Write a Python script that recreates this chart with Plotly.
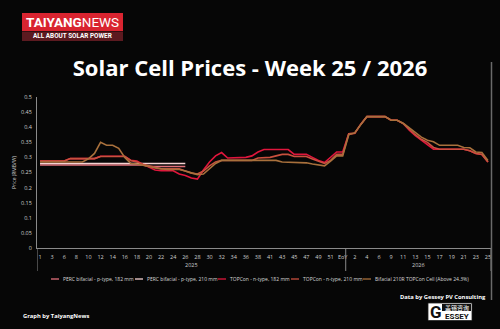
import plotly.graph_objects as go

# ---------------- data ----------------
weeks_2025 = ["1", "2", "3", "5", "6", "7", "8", "9", "10", "11", "12", "13", "14", "15", "16",
              "17", "18", "19", "20", "21", "22", "23", "24", "25", "26", "27", "28", "29", "30",
              "31", "32", "33", "34", "35", "36", "37", "38", "40", "41", "42", "43", "44", "45",
              "46", "47", "48", "49", "50", "51", "52", "EoY"]
weeks_2026 = ["1", "2", "3", "4", "5", "6", "8", "9", "10", "11", "12", "13", "14", "15", "16",
              "17", "18", "19", "20", "21", "22", "23", "24", "25"]
years = ["2025", "2026"]

perc_182 = [0.275] * 18 + [0.27] * 7 + [None] * 50
perc_210 = [0.28] * 25 + [None] * 50

topcon_182 = [
    0.288, 0.288, 0.288, 0.288, 0.288, 0.296, 0.296, 0.296, 0.296, 0.296,
    0.304, 0.304, 0.304, 0.304, 0.304, 0.29, 0.288, 0.277, 0.268, 0.258,
    0.256, 0.256, 0.256, 0.245, 0.24, 0.232, 0.228, 0.258, 0.285, 0.305,
    0.316, 0.298, 0.298, 0.298, 0.3, 0.305, 0.318, 0.326, 0.326, 0.326,
    0.326, 0.326, 0.31, 0.31, 0.31, 0.3, 0.29, 0.283, 0.3, 0.318,
    0.318,
    0.378, 0.38, 0.41, 0.435, 0.435, 0.435, 0.435, 0.423, 0.423, 0.412,
    0.39, 0.372, 0.357, 0.345, 0.327, 0.327, 0.327, 0.327, 0.327, 0.327,
    0.322, 0.313, 0.31, 0.285]

topcon_210 = [
    0.288, 0.288, 0.288, 0.288, 0.288, 0.296, 0.296, 0.296, 0.296, 0.296,
    0.303, 0.303, 0.303, 0.303, 0.303, 0.29, 0.285, 0.277, 0.272, 0.265,
    0.262, 0.262, 0.262, 0.262, 0.255, 0.248, 0.245, 0.255, 0.272, 0.285,
    0.29, 0.29, 0.29, 0.29, 0.29, 0.29, 0.298, 0.3, 0.3, 0.305,
    0.31, 0.31, 0.303, 0.303, 0.303, 0.295, 0.287, 0.28, 0.29, 0.31,
    0.31,
    0.378, 0.38, 0.41, 0.435, 0.435, 0.435, 0.435, 0.423, 0.423, 0.412,
    0.392, 0.375, 0.36, 0.35, 0.333, 0.327, 0.327, 0.327, 0.327, 0.327,
    0.322, 0.313, 0.31, 0.285]

bifacial_210r = [
    0.285, 0.285, 0.285, 0.285, 0.285, 0.285, 0.285, 0.285, 0.295, 0.313,
    0.35, 0.34, 0.34, 0.33, 0.30, 0.28, 0.278, 0.275, 0.27, 0.265,
    0.262, 0.26, 0.26, 0.26, 0.255, 0.248, 0.243, 0.245, 0.262, 0.28,
    0.29, 0.29, 0.288, 0.288, 0.29, 0.29, 0.29, 0.29, 0.29, 0.29,
    0.285, 0.284, 0.284, 0.283, 0.282, 0.278, 0.274, 0.272, 0.288, 0.305,
    0.305,
    0.375, 0.382, 0.41, 0.435, 0.435, 0.435, 0.435, 0.423, 0.423, 0.413,
    0.398, 0.382, 0.367, 0.357, 0.352, 0.34, 0.34, 0.34, 0.34, 0.333,
    0.332, 0.318, 0.316, 0.29]

series_names = ["PERC bifacial - p-type, 182 mm", "PERC bifacial - p-type, 210 mm",
                "TOPCon - n-type, 182 mm", "TOPCon - n-type, 210 mm",
                "Bifacial 210R TOPCon Cell (Above 24.3%)"]
series_values = [perc_182, perc_210, topcon_182, topcon_210, bifacial_210r]
series_colors = ["#e0707a", "#f6d2d2", "#e0163c", "#c9503e", "#a8703c"]

y_ticks = [0, 0.05, 0.1, 0.15, 0.2, 0.25, 0.3, 0.35, 0.4, 0.45, 0.5]
y_labels = ["0", "0.05", "0.1", "0.15", "0.2", "0.25", "0.3", "0.35", "0.4", "0.45", "0.5"]

# ---------------- layout geometry ----------------
W, H = 500, 329
ML, MR, MT, MB = 37, 9, 97, 81
PW, PH = W - ML - MR, H - MT - MB


def px(x):
    return (x - ML) / PW


def py(y):
    return (H - MB - y) / PH


categories = weeks_2025 + weeks_2026
xi = list(range(len(categories)))
tick_idx = xi[::2]
tick_txt = [categories[i] for i in tick_idx]
n25 = len(weeks_2025)

BG = "#060606"
FONT = "Open Sans"

fig = go.Figure()
for name, vals, col in zip(series_names, series_values, series_colors):
    fig.add_trace(go.Scatter(x=xi, y=vals, mode="lines", name=name,
                             line=dict(color=col, width=1.6), showlegend=False,
                             connectgaps=False))

shapes = []
annotations = []


def ann(text, x, y, size, color="white", family=FONT, xanchor="center", xref="paper"):
    annotations.append(dict(text=text, xref=xref, yref="paper", x=x, y=y,
                            xanchor=xanchor, yanchor="middle", showarrow=False,
                            font=dict(size=size, color=color, family=family)))


# year dividers below axis
for xv in [-0.5, n25 - 0.5, len(categories) - 0.5]:
    shapes.append(dict(type="line", xref="x", yref="paper", x0=xv, x1=xv,
                       y0=0, y1=py(271), line=dict(color="#8a8a8a", width=1)))
# right scroll line
shapes.append(dict(type="line", xref="paper", yref="paper", x0=px(491.5), x1=px(491.5),
                   y0=py(62), y1=py(300), line=dict(color="#6a6a6a", width=1.5)))

# year labels
ann(years[0], (n25 - 1) / 2, py(265), 5.5, "#cfcfcf", xref="x")
ann(years[1], n25 + (len(weeks_2026) - 1) / 2, py(265), 5.5, "#cfcfcf", xref="x")

# manual legend
leg_y = 279
leg_x = [51, 135, 218, 291, 363]
for lx, name, col in zip(leg_x, series_names, series_colors):
    shapes.append(dict(type="line", xref="paper", yref="paper", x0=px(lx), x1=px(lx + 8),
                       y0=py(leg_y), y1=py(leg_y), line=dict(color=col, width=1.3)))
    ann(name, px(lx + 9.5), py(leg_y), 5.0, "#d8d8d8", xanchor="left")

# logo
shapes.append(dict(type="rect", xref="paper", yref="paper", x0=px(22), x1=px(123),
                   y0=py(13), y1=py(31), fillcolor="#d92430", line=dict(width=0)))
shapes.append(dict(type="rect", xref="paper", yref="paper", x0=px(22), x1=px(123),
                   y0=py(31.5), y1=py(41), fillcolor="#5c1a20", line=dict(width=0)))
ann("<b>TAIYANG</b>NEWS", px(72.5), py(22.3), 13.5, "white", "Roboto")
ann("<b>ALL ABOUT SOLAR POWER</b>", px(72.5), py(36.3), 6.4, "white", "Roboto")

# footer
ann("<b>Data by Gessey PV Consulting</b>", px(488), py(297), 5.8, "white", xanchor="right")
ann("<b>Graph by TaiyangNews</b>", px(21), py(316), 5.8, "white", xanchor="left")

# Gessey logo
shapes.append(dict(type="rect", xref="paper", yref="paper", x0=px(428), x1=px(472),
                   y0=py(303), y1=py(320.5), fillcolor="white",
                   line=dict(color="#222", width=0.8)))
shapes.append(dict(type="rect", xref="paper", yref="paper", x0=px(442), x1=px(471),
                   y0=py(304), y1=py(311), fillcolor="#111", line=dict(width=0)))
ann("盖锡咨询", px(456.5), py(307.6), 6, "white", "Noto Sans CJK SC")
ann("<b>G</b>", px(435.5), py(312), 17, "#111", "Roboto")
ann("<b>ESSEY</b>", px(456.5), py(316), 8, "#111", "Roboto")

fig.update_layout(
    width=W, height=H,
    margin=dict(l=ML, r=MR, t=MT, b=MB, pad=0),
    paper_bgcolor=BG, plot_bgcolor=BG,
    title=dict(text="<b>Solar Cell Prices - Week 25 / 2026</b>", xref="container", yref="container",
               x=0.5, y=1 - 68 / H, xanchor="center", yanchor="middle",
               font=dict(size=22, color="white", family=FONT)),
    xaxis=dict(range=[-0.5, len(categories) - 0.5], tickmode="array", tickvals=tick_idx,
               ticktext=tick_txt, tickangle=0, showgrid=False, zeroline=False,
               showline=True, linecolor="#8a8a8a", linewidth=1,
               tickfont=dict(size=5.5, color="#cfcfcf", family=FONT), ticks="",
               ticklabelstandoff=3),
    yaxis=dict(range=[0, 0.5], tickmode="array", tickvals=y_ticks, ticktext=y_labels,
               showgrid=False, zeroline=False, showline=True, linecolor="#8a8a8a", linewidth=1,
               tickfont=dict(size=5.5, color="#cfcfcf", family=FONT), ticks="",
               ticklabelstandoff=3,
               title=dict(text="Price (RMB/W)", standoff=4,
                          font=dict(size=5, color="#cfcfcf", family=FONT))),
    shapes=shapes, annotations=annotations,
)

fig.write_html("out.html")
